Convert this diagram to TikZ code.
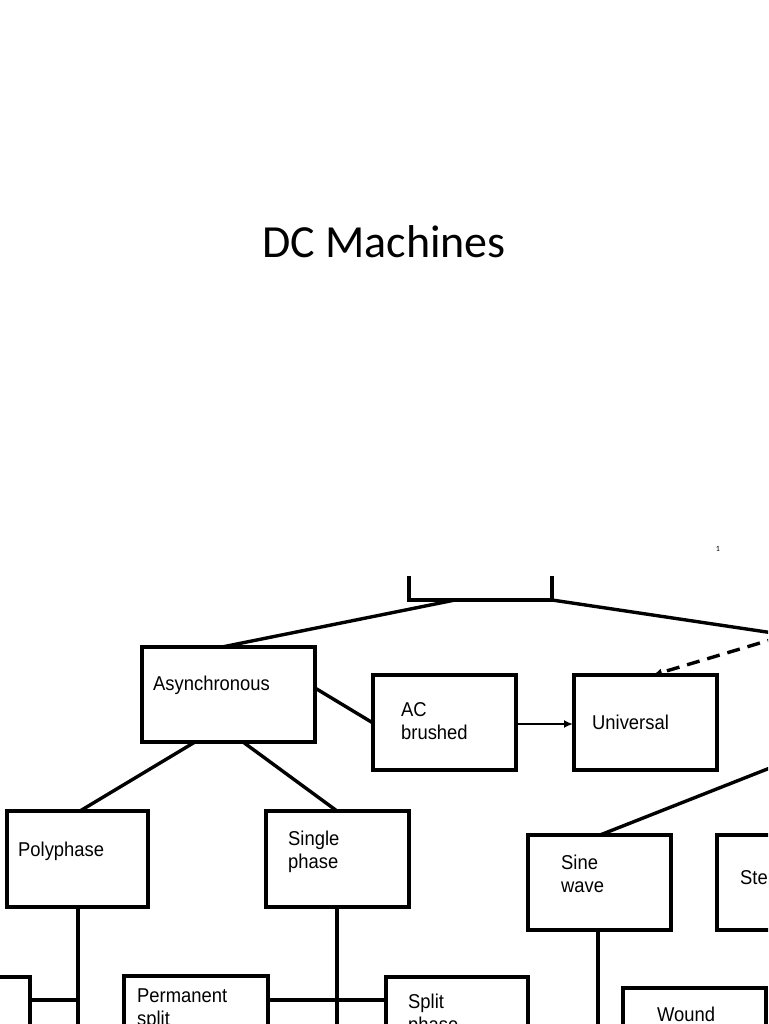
\documentclass[tikz,border=0pt]{standalone}
\usepackage{fontspec}
\setmainfont{Carlito}
\newfontfamily\dsans{Liberation Sans}
\usetikzlibrary{arrows.meta}
\begin{document}
\begin{tikzpicture}[x=1pt,y=-1pt,
  box/.style={draw,line width=3.6pt,inner sep=0pt},
  lbl/.style={font=\dsans\fontsize{20}{23}\selectfont,align=left,anchor=west,inner sep=0pt,xscale=0.92},
  ln/.style={line width=3.4pt}]
\useasboundingbox (0,0) rectangle (768,1024);
\node (title) at (384,242) {\fontsize{46}{50}\selectfont DC Machines};
\node (pg) at (718,549) {\fontsize{8}{9}\selectfont 1};
\begin{scope}
\clip (0,576) rectangle (768,1024);
% boxes
\draw[box] (409,560) rectangle (552,600);
\draw[box] (142,647) rectangle (315,742);
\draw[box] (373,675) rectangle (516,770);
\draw[box] (574,675) rectangle (717,770);
\draw[box] (7,811) rectangle (148,907);
\draw[box] (266,811) rectangle (409,907);
\draw[box] (528,835) rectangle (671,930);
\draw[box] (717,835) rectangle (800,930);
\draw[box] (-20,977) rectangle (30,1060);
\draw[box] (124,976) rectangle (268,1060);
\draw[box] (386,977) rectangle (528,1060);
\draw[box] (623,988) rectangle (766,1060);
% labels
\node[lbl] (asy) at (153,685) {Asynchronous};
\node[lbl] (acb) at (401,721) {AC\\brushed};
\node[lbl] (uni) at (592,722) {Universal};
\node[lbl] (poly) at (18,851) {Polyphase};
\node[lbl] (sing) at (288,852) {Single\\phase};
\node[lbl] (sine) at (561,874) {Sine\\wave};
\node[lbl] (st) at (740,880) {Step};
\node[lbl] (perm) at (137,1009) {Permanent\\split};
\node[lbl] (split) at (408,1015) {Split\\phase};
\node[lbl] (wound) at (657,1014) {Wound};
% named points
\coordinate (tb1) at (455,600);
\coordinate (tb2) at (552,600);
\coordinate (rOut1) at (780,634);
\coordinate (rOut2) at (780,637);
\coordinate (rOut3) at (780,764);
\coordinate (asT) at (222,647);
\coordinate (asR) at (315,688);
\coordinate (acL) at (373,723);
\coordinate (acR) at (516,724);
\coordinate (unL) at (573,724);
\coordinate (unT) at (653,675);
\coordinate (asB1) at (195,742);
\coordinate (asB2) at (243,742);
\coordinate (poT) at (80,811);
\coordinate (siT) at (337,811);
\coordinate (swT) at (600,835);
\coordinate (poB) at (78,907);
\coordinate (poE) at (78,1030);
\coordinate (siB) at (337,907);
\coordinate (siE) at (337,1030);
\coordinate (swB) at (598,930);
\coordinate (swE) at (598,1030);
\coordinate (lbR) at (30,1000);
\coordinate (lbJ) at (78,1000);
\coordinate (pmR) at (268,1000);
\coordinate (spL) at (386,1000);
% connectors
\draw[ln] (tb1) -- (asT);
\draw[ln] (tb2) -- (rOut1);
\draw[ln] (asR) -- (acL);
\draw[ln,-{Latex[length=9pt,width=8pt]},line width=2.6pt] (acR) -- (unL);
\draw[ln,dash pattern=on 13pt off 8pt,-{Latex[length=9pt,width=8pt]}] (rOut2) -- (unT);
\draw[ln] (rOut3) -- (swT);
\draw[ln] (asB1) -- (poT);
\draw[ln] (asB2) -- (siT);
\draw[ln] (poB) -- (poE);
\draw[ln] (siB) -- (siE);
\draw[ln] (swB) -- (swE);
\draw[ln] (lbR) -- (lbJ);
\draw[ln] (pmR) -- (spL);
\end{scope}
\end{tikzpicture}
\end{document}
